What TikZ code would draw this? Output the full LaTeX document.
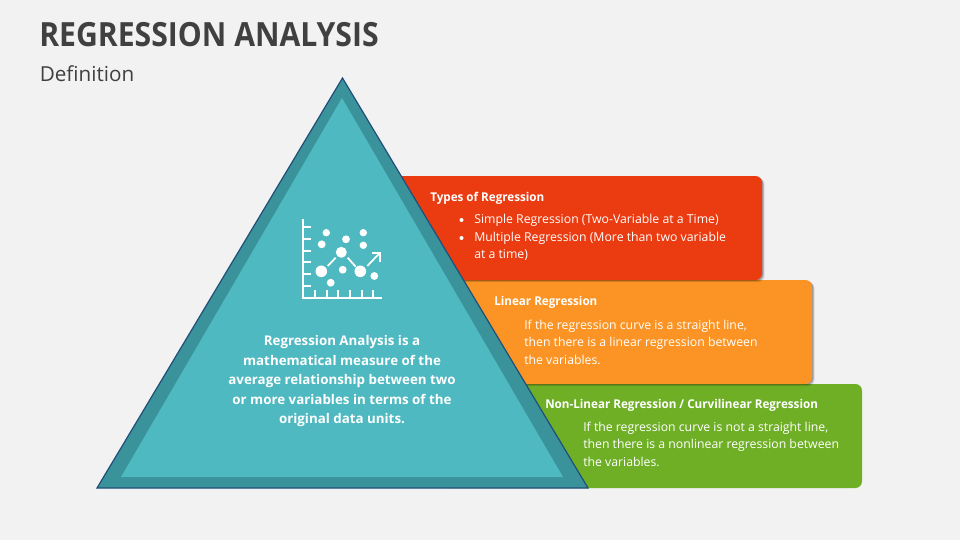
\documentclass[tikz,border=0pt]{standalone}
\usepackage{fontspec}
\setmainfont{Open Sans}
\newfontfamily\titlefont[FakeStretch=0.905]{Open Sans}
\newfontfamily\headfont[FakeStretch=0.96]{Open Sans}
\usetikzlibrary{shadows,arrows.meta}
\definecolor{bgc}{HTML}{F2F2F2}
\definecolor{titlec}{HTML}{404040}
\definecolor{redc}{HTML}{EB3C11}
\definecolor{orangec}{HTML}{FB9424}
\definecolor{greenc}{HTML}{6FAF26}
\definecolor{triout}{HTML}{3A939B}
\definecolor{triin}{HTML}{4FB9C1}
\definecolor{triedge}{HTML}{1F4E79}
\tikzset{
  softshadow/.style={
    general shadow={fill=black,opacity=.10,shadow xshift=2pt,shadow yshift=-1.6pt,rounded corners=5pt},
    general shadow={fill=black,opacity=.13,shadow xshift=1.4pt,shadow yshift=-1.1pt,rounded corners=5pt},
    general shadow={fill=black,opacity=.18,shadow xshift=.8pt,shadow yshift=-.6pt,rounded corners=5pt}},
  band/.style={rounded corners=5pt,anchor=north east,inner sep=0pt,outer sep=0pt,minimum height=104*.75pt},
  head/.style={anchor=west,text=white,font=\headfont\fontsize{9.1}{11}\selectfont\bfseries,inner sep=0pt},
  para/.style={anchor=north west,align=left,text=white,font=\fontsize{9.2}{13}\selectfont,inner sep=0pt},
  dotw/.style={fill=white,draw=none},
  iconl/.style={draw=white,line width=1.3pt},
}
\begin{document}
\begin{tikzpicture}[x=.75pt,y=-.75pt]
\useasboundingbox (0,0) rectangle (960,540);
\fill[bgc] (0,0) rectangle (960,540);
\node[anchor=west,text=titlec,font=\titlefont\fontsize{25}{30}\selectfont\bfseries,inner sep=0pt] (title) at (39,35) {REGRESSION ANALYSIS};
\node[anchor=west,text=titlec,font=\fontsize{15.5}{18}\selectfont,inner sep=0pt] (sub) at (39.5,74) {Definition};
% bands
\node[band,fill=greenc,minimum width=420*.75pt] (g) at (862,384) {};
\node[band,softshadow,fill=orangec,minimum width=420*.75pt] (o) at (812,280) {};
\node[band,softshadow,fill=redc,minimum width=400*.75pt] (r) at (762,176) {};
% triangle
\coordinate (A) at (342.5,78);
\coordinate (B) at (97,488);
\coordinate (C) at (588,488);
\fill[triout,draw=triedge,line width=.9pt,line join=miter] (A) -- (B) -- (C) -- cycle;
\fill[triin] (342,98) -- (121,477) -- (563,477) -- cycle;
% icon
\draw[iconl] (302.7,219) -- (302.7,298) -- (382,298);
\foreach \y in {226.7,239,250.7,262.3,274,285.7} \draw[iconl] (302.7,\y) -- (311,\y);
\foreach \x in {315,326.7,338.3,350,361.7,373.3} \draw[iconl] (\x,298) -- (\x,290);
\foreach \x/\y/\r in {326.3/232.7/3.7,363.3/232.7/3.7,321.7/244.3/3.9,346/239.3/3.9,363.3/245.3/3.7,341.3/252.3/5.5,321.3/271.3/5.8,342.7/269.7/3.9,360.3/271.3/5.8,374.3/276/3.9,330.7/282.7/3.9}
  \fill[dotw] (\x,\y) circle[radius=\r*.75pt];
\draw[iconl] (327.7,266) -- (335.7,257.7);
\draw[iconl] (347.7,257.7) -- (355.7,266.7);
\draw[iconl] (367.3,266) -- (380,252.7);
\draw[iconl] (371.7,252.7) -- (380,252.7) -- (380,261.7);
% triangle text
\node[anchor=north,align=center,text=white,font=\fontsize{10}{14.6}\selectfont\bfseries,inner sep=0pt] (tt) at (342,335.5)
 {Regression Analysis is a\\mathematical measure of the\\average relationship between two\\or more variables in terms of the\\original data units.};
% red
\node[head] (rh) at (430,198) {Types of Regression};
\node[para] (rb1) at (474,214) {Simple Regression (Two-Variable at a Time)};
\node[para] (rb2) at (474,232) {Multiple Regression (More than two variable\\at a time)};
\fill[white] (461.5,220) circle[radius=2*.75pt];
\fill[white] (461.5,238) circle[radius=2*.75pt];
% orange
\node[head] (oh) at (494,302) {Linear Regression};
\node[para] (ob) at (524,320) {If the regression curve is a straight line,\\then there is a linear regression between\\the variables.};
% green
\node[head] (gh) at (545,405) {Non-Linear Regression / Curvilinear Regression};
\node[para] (gb) at (583,422) {If the regression curve is not a straight line,\\then there is a nonlinear regression between\\the variables.};
\end{tikzpicture}
\end{document}
